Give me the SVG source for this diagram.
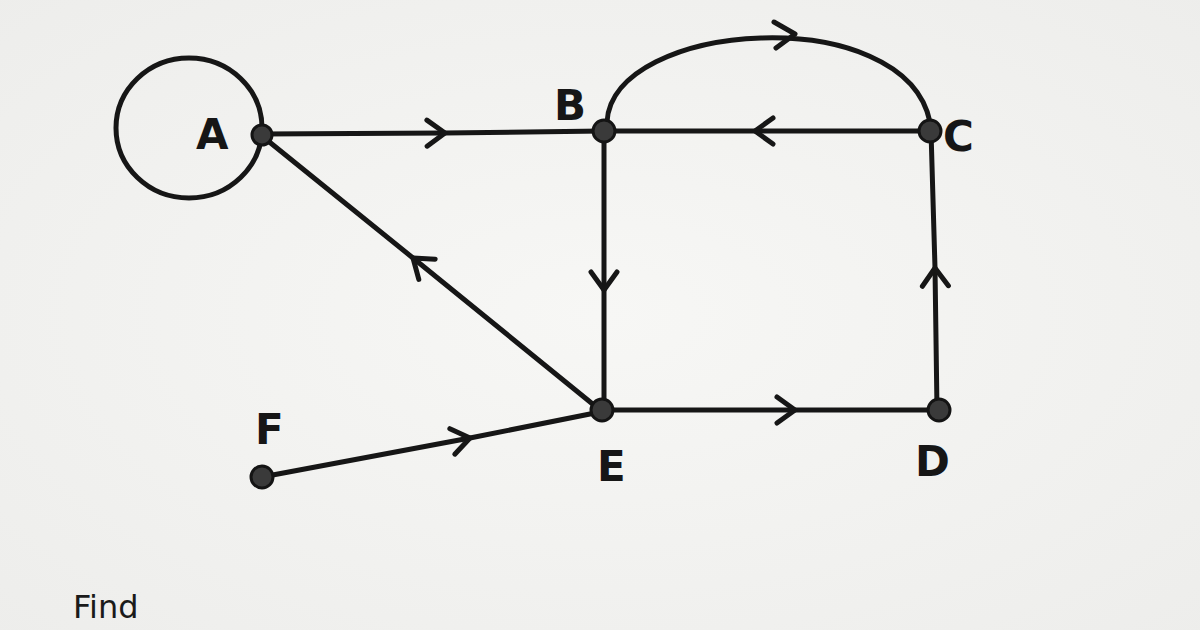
<svg xmlns="http://www.w3.org/2000/svg" width="1200" height="630" viewBox="0 0 1200 630">
<defs>
<marker id="chev" viewBox="-22 -16 26 32" markerWidth="26" markerHeight="32" markerUnits="userSpaceOnUse" orient="auto" refX="0" refY="0">
<path d="M-18,-13 L0,0 L-18,13" fill="none" stroke="#161616" stroke-width="5" stroke-linecap="round" stroke-linejoin="round"/>
</marker>
<radialGradient id="bg" cx="0.5" cy="0.5" r="0.8">
<stop offset="0" stop-color="#f7f7f5"/>
<stop offset="1" stop-color="#ececea"/>
</radialGradient>
</defs>
<style>
.e{fill:none;stroke:#161616;stroke-width:5;stroke-linecap:round;stroke-linejoin:round}
.m{marker-mid:url(#chev)}
.n{fill:#3a3a3a;stroke:#141414;stroke-width:3}
.l{font-family:"DejaVu Sans","Liberation Sans",sans-serif;font-size:42px;font-weight:bold;fill:#161616}
.t{font-family:"DejaVu Sans","Liberation Sans",sans-serif;font-size:32px;fill:#1a1a1a}
</style>
<rect width="1200" height="630" fill="url(#bg)"/>
<g id="connectors">
<ellipse id="loop-A" class="e" cx="189" cy="128" rx="73" ry="70"/>
<path id="A-B" class="e m" d="M262,134 L445,133 L603,131"/>
<path id="C-B" class="e m" d="M930,131 L755,131 L603,131"/>
<path id="B-C" class="e" d="M607,122 C612,20 905,0 930,122"/>
<path class="e" d="M774,22 L795,34 L776,48"/>
<path id="B-E" class="e m" d="M604,131 L604,290 L604,410"/>
<path id="E-A" class="e m" d="M600,410 L413,258 L262,136"/>
<path id="F-E" class="e m" d="M262,477 L470,438 L600,412"/>
<path id="E-D" class="e m" d="M603,410 L795,410 L938,410"/>
<path id="D-C" class="e m" d="M937,410 L935,268 L931,131"/>
</g>
<g id="node-A"><circle class="n" cx="262" cy="135" r="10"/><text class="l" x="196" y="149">A</text></g>
<g id="node-B"><circle class="n" cx="604" cy="131" r="11"/><text class="l" x="554" y="120">B</text></g>
<g id="node-C"><circle class="n" cx="930" cy="131" r="11"/><text class="l" x="943" y="151">C</text></g>
<g id="node-E"><circle class="n" cx="602" cy="410" r="11"/><text class="l" x="597" y="481">E</text></g>
<g id="node-D"><circle class="n" cx="939" cy="410" r="11"/><text class="l" x="915" y="476">D</text></g>
<g id="node-F"><circle class="n" cx="262" cy="477" r="11"/><text class="l" x="255" y="444">F</text></g>
<text class="t" x="73" y="618">Find</text>
</svg>
